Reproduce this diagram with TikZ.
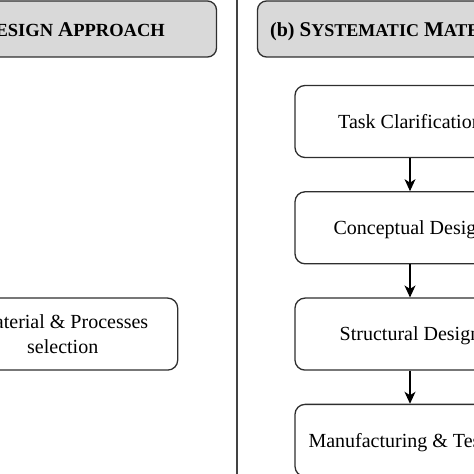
\documentclass[tikz,border=0pt]{standalone}
\usepackage{fontspec}
\setmainfont{Liberation Serif}
\usetikzlibrary{positioning,arrows.meta}
\definecolor{headgray}{HTML}{D9D9D9}
\definecolor{edgegray}{HTML}{2E2E2E}
\newcommand{\capword}[4][18]{{\fontsize{#2}{24}\selectfont #3}{\fontsize{#1}{19}\selectfont #4}}
\tikzset{stepbox/.style={draw=edgegray, line width=1.3pt, rounded corners=10pt, minimum width=230pt, minimum height=72pt, inner sep=0pt, align=center, font=\fontsize{20}{25}\selectfont},
flowtext/.style={text height=13.5pt, text depth=0pt},
headbox/.style={draw=edgegray, fill=headgray, line width=1.3pt, rounded corners=9pt, minimum width=305pt, minimum height=56pt},
headtext/.style={inner sep=0pt, font=\bfseries\fontsize{20}{24}\selectfont},
flow/.style={-{Stealth[length=12pt,width=11pt,inset=3.5pt]}, line width=1.1pt}}

\begin{document}
\begin{tikzpicture}[x=1pt,y=1pt,node distance=33pt]
\useasboundingbox (0,0) rectangle (474,474);
\clip (0,0) rectangle (474,474);
% divider between the two panels
\coordinate (divtop) at (237,474);
\coordinate (divbot) at (237,0);
\draw[line width=2pt, draw=edgegray!90] (divtop)--(divbot);
% headers
\node[headbox] (headA) at (64,445) {};
\node[headbox] (headB) at (410,445) {};
\node[headtext, anchor=base east] (titleA) at (165,437) {\capword[18.5]{22}{D}{ESIGN} \capword[18.5]{21}{A}{PPROACH}};
\node[headtext, anchor=base west] (titleB) at (270,437) {(b) \capword{21}{S}{YSTEMATIC} \capword{21}{M}{ATERIAL} \capword{21}{D}{ESIGN}};
% steps, panel (b)
\node[stepbox, flowtext] (task) at (410,352.5) {Task Clarification};
\node[stepbox, flowtext, below=of task] (concept) {Conceptual Design};
\node[stepbox, flowtext, below=of concept] (struct) {Structural Design};
\node[stepbox, flowtext, below=of struct] (manuf) {Manufacturing \& Testing};
% panel (a)
\node[stepbox, left=116pt of struct] (matsel) {Material \& Processes\\selection};
\draw[flow] (task)--(concept);
\draw[flow] (concept)--(struct);
\draw[flow] (struct)--(manuf);
\end{tikzpicture}
\end{document}
